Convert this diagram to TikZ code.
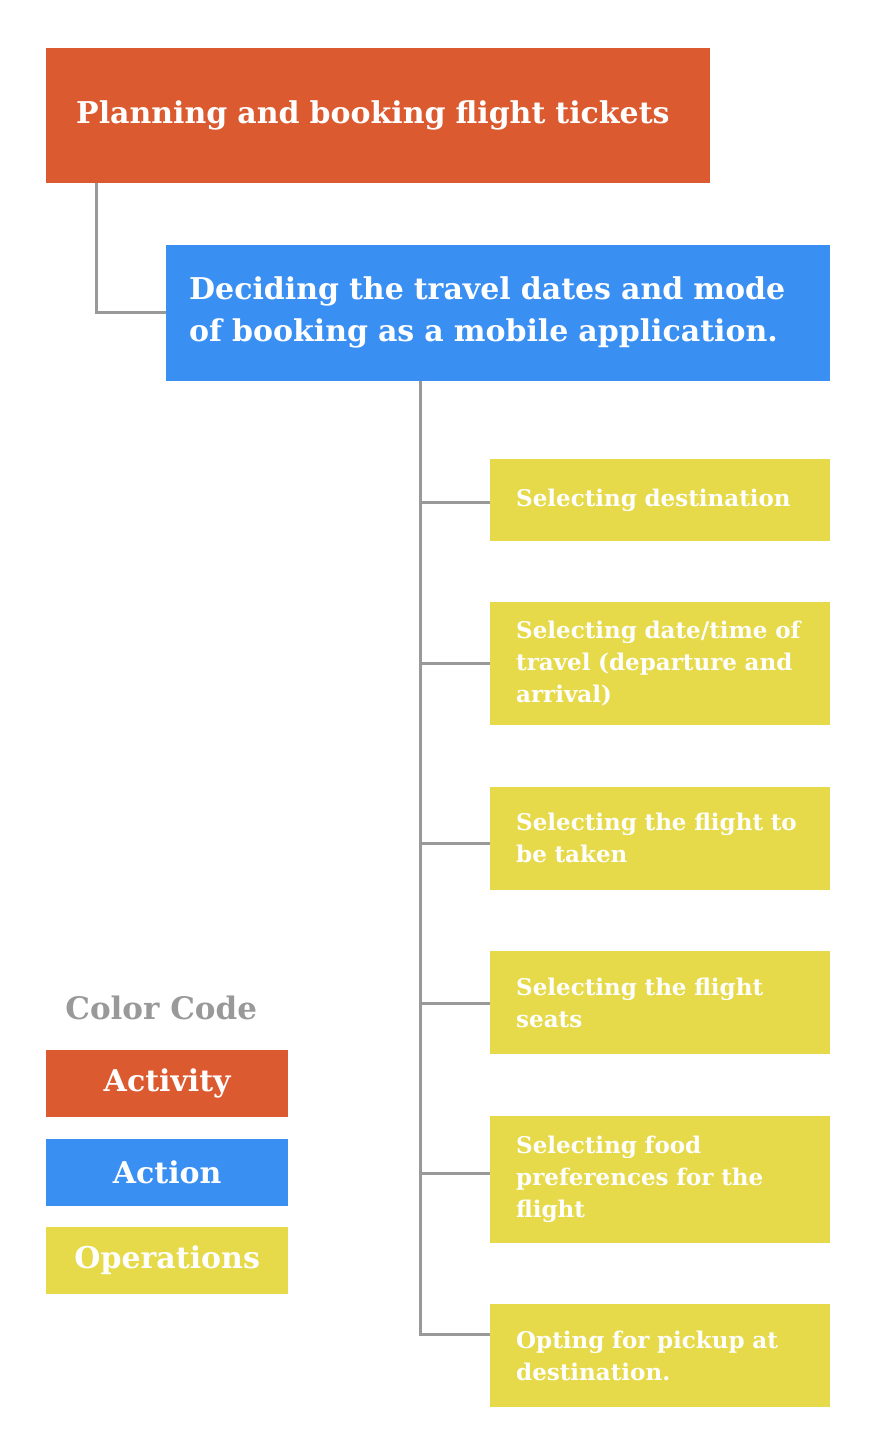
\documentclass[tikz,border=0pt]{standalone}
\usepackage{fontspec}
\setmainfont{DejaVu Serif}
\usepackage{xcolor}
\usetikzlibrary{positioning}
\definecolor{actred}{HTML}{DC5A30}
\definecolor{actblue}{HTML}{3A8FF2}
\definecolor{opyellow}{HTML}{E6DA4A}
\definecolor{linkgrey}{HTML}{999999}

\begin{document}
\begin{tikzpicture}[x=1pt, y=1pt, node distance=61pt and 0pt, every node/.style={text=white, inner ysep=0pt}]
\tikzstyle{activitybox}=[fill=actred,rectangle,anchor=north west,text width=604pt,inner xsep=30pt,minimum height=135pt,align=left,font=\bfseries\fontsize{30}{42}\selectfont]
\tikzstyle{actionbox}=[fill=actblue,rectangle,text width=618pt,inner xsep=23pt,minimum height=136pt,align=left,font=\bfseries\fontsize{30}{42}\selectfont]
\tikzstyle{opbox}=[fill=opyellow,rectangle,text width=288pt,inner xsep=26pt,minimum height=103pt,align=left,font=\bfseries\fontsize{23}{32}\selectfont]
\tikzstyle{keybox}=[rectangle,anchor=north west,minimum width=242pt,minimum height=67pt,align=center,font=\bfseries\fontsize{30}{40}\selectfont]
\tikzstyle{keytitle}=[text=linkgrey,font=\bfseries\fontsize{31}{40}\selectfont]
\tikzstyle{link}=[draw=linkgrey,line width=3pt]
\useasboundingbox (0,0) rectangle (880,-1440);

% activity and action
\node[activitybox] (activity) at (46,-48) {Planning and booking flight tickets};
\node[actionbox,below right=61pt and 120pt of activity.south west,anchor=north west] (action) {Deciding the travel dates and mode\\of booking as a mobile application.};

% operations
\node[opbox,minimum height=82pt,below=78pt of action.south east,anchor=north east] (dest) {Selecting destination};
\node[opbox,minimum height=123pt,below=of dest] (dates) {Selecting date/time of\\travel (departure and\\arrival)};
\node[opbox,below=of dates] (flight) {Selecting the flight to\\be taken};
\node[opbox,below=of flight] (seats) {Selecting the flight\\seats};
\node[opbox,minimum height=127pt,below=of seats] (food) {Selecting food\\preferences for the\\flight};
\node[opbox,below=of food] (pickup) {Opting for pickup at\\destination.};

% colour key
\node[keybox,fill=actred] (keyactivity) at (46,-1050) {Activity};
\node[keybox,fill=actblue,below=21pt of keyactivity] (keyaction) {Action};
\node[keybox,fill=opyellow,below=21pt of keyaction] (keyops) {Operations};
\node[keytitle,above=30pt of keyactivity,xshift=-6pt] (keytitle) {Color Code};

% connectors
\coordinate (actstem) at ([xshift=50pt]activity.south west);
\draw[link] (actstem) |- (action.west);
\coordinate (trunk) at ([xshift=254pt]action.south west);
\foreach \op/\dy in {dest/-2, dates/0, flight/-5, seats/-1, food/6, pickup/21}
  \draw[link] (trunk) |- ([yshift=\dy pt]\op.west);
\end{tikzpicture}
\end{document}
